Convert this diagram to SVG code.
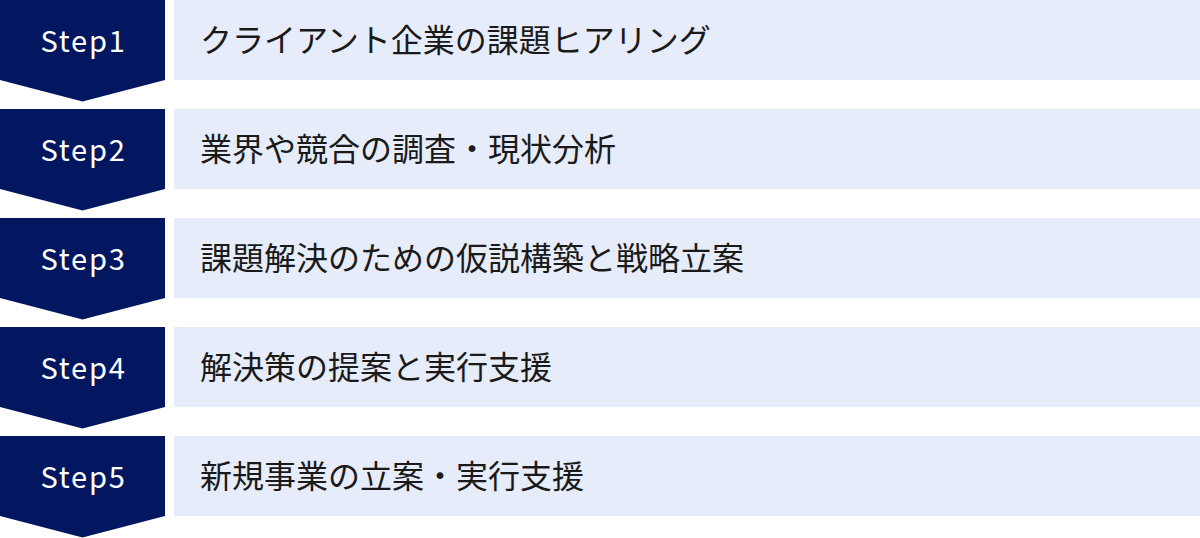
<svg xmlns="http://www.w3.org/2000/svg" width="1200" height="538" viewBox="0 0 1200 538">
<style>
.step{fill:#031761}
.bar{fill:#e6ecf9}
.lbl{font-family:"Noto Sans CJK JP","Noto Sans",sans-serif;font-size:29px;fill:#ffffff;text-anchor:middle;letter-spacing:1.8px}
.txt{font-family:"Noto Sans CJK JP","Noto Sans",sans-serif;font-size:32px;fill:#1a1a1a}
</style>
<defs>
<path id="chev" d="M0 0H165V80L82.5 101.5L0 80Z"/>
</defs>
<g id="connectors"></g>
<g id="step1">
<use href="#chev" class="step"/>
<rect class="bar" x="174" y="0" width="1026" height="80"/>
<text class="lbl" x="83.5" y="52">Step1</text>
<text class="txt" x="200" y="51.5">クライアント企業の課題ヒアリング</text>
</g>
<g id="step2" transform="translate(0,109)">
<use href="#chev" class="step"/>
<rect class="bar" x="174" y="0" width="1026" height="80"/>
<text class="lbl" x="83.5" y="52">Step2</text>
<text class="txt" x="200" y="51.5">業界や競合の調査・現状分析</text>
</g>
<g id="step3" transform="translate(0,218)">
<use href="#chev" class="step"/>
<rect class="bar" x="174" y="0" width="1026" height="80"/>
<text class="lbl" x="83.5" y="52">Step3</text>
<text class="txt" x="200" y="51.5">課題解決のための仮説構築と戦略立案</text>
</g>
<g id="step4" transform="translate(0,327)">
<use href="#chev" class="step"/>
<rect class="bar" x="174" y="0" width="1026" height="80"/>
<text class="lbl" x="83.5" y="52">Step4</text>
<text class="txt" x="200" y="51.5">解決策の提案と実行支援</text>
</g>
<g id="step5" transform="translate(0,436)">
<use href="#chev" class="step"/>
<rect class="bar" x="174" y="0" width="1026" height="80"/>
<text class="lbl" x="83.5" y="52">Step5</text>
<text class="txt" x="200" y="51.5">新規事業の立案・実行支援</text>
</g>
</svg>
